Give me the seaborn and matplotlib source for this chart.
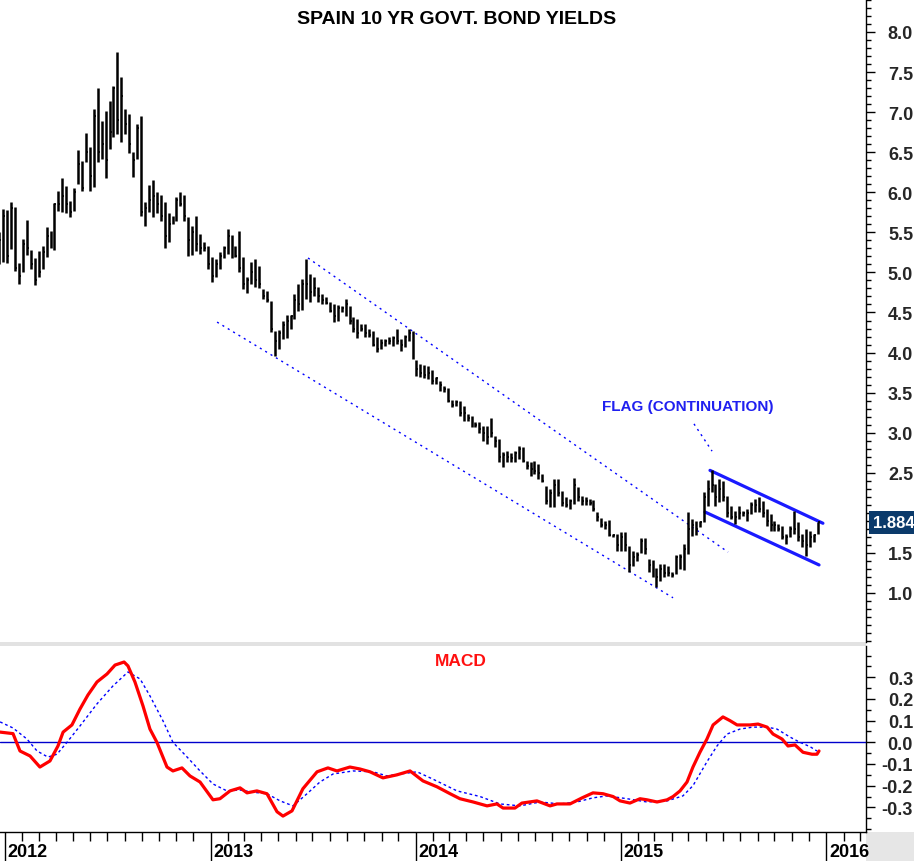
import numpy as np
import pandas as pd
import matplotlib
matplotlib.use("Agg")
import matplotlib.pyplot as plt
import matplotlib.transforms as mtransforms
from matplotlib.patches import Rectangle
from matplotlib.ticker import FixedLocator, NullFormatter
import seaborn as sns

sns.set_style("white")
plt.rcParams["font.family"] = ["Liberation Sans", "DejaVu Sans"]

# ---------------- data ----------------
first_week = "2011-12-22"

high = [5.50, 5.79, 5.78, 5.88, 5.82, 5.12, 5.42, 5.65, 5.28, 5.18, 5.27, 5.33, 5.57, 5.52, 5.87,
        6.02, 6.18, 6.08, 5.89, 6.05, 6.53, 6.39, 6.74, 6.56, 7.04, 7.30, 6.89, 7.01, 7.14, 7.33,
        7.75, 7.44, 7.04, 6.98, 6.50, 6.85, 6.95, 5.88, 6.09, 6.15, 6.00, 5.97, 5.88, 5.74, 5.70,
        5.94, 6.00, 5.97, 5.69, 5.58, 5.70, 5.48, 5.38, 5.33, 5.19, 5.17, 5.25, 5.33, 5.54, 5.47,
        5.33, 5.52, 5.19, 4.94, 5.13, 5.17, 5.08, 4.79, 4.77, 4.64, 4.27, 4.28, 4.39, 4.47, 4.47,
        4.73, 4.86, 4.92, 5.17, 4.98, 4.94, 4.82, 4.73, 4.69, 4.63, 4.61, 4.59, 4.58, 4.67, 4.58,
        4.44, 4.42, 4.36, 4.36, 4.29, 4.27, 4.19, 4.17, 4.17, 4.19, 4.21, 4.29, 4.17, 4.22, 4.29,
        4.27, 3.91, 3.86, 3.85, 3.83, 3.78, 3.70, 3.65, 3.58, 3.56, 3.41, 3.41, 3.40, 3.33, 3.23,
        3.21, 3.13, 3.13, 3.08, 3.08, 3.18, 2.96, 2.92, 2.76, 2.77, 2.75, 2.77, 2.83, 2.82, 2.65,
        2.63, 2.65, 2.61, 2.49, 2.33, 2.30, 2.42, 2.42, 2.27, 2.20, 2.17, 2.44, 2.32, 2.21, 2.20,
        2.17, 2.16, 2.01, 1.93, 1.90, 1.91, 1.74, 1.74, 1.76, 1.76, 1.59, 1.52, 1.51, 1.69, 1.69,
        1.42, 1.41, 1.31, 1.36, 1.36, 1.34, 1.26, 1.47, 1.49, 1.61, 2.01, 1.92, 1.90, 1.90, 2.26,
        2.41, 2.53, 2.36, 2.42, 2.40, 2.21, 2.09, 2.02, 2.09, 2.02, 2.05, 2.13, 2.17, 2.20, 2.15,
        2.05, 1.99, 1.90, 1.86, 1.84, 1.74, 1.84, 2.02, 1.89, 1.74, 1.80, 1.77, 1.74, 1.89]

low = [5.10, 5.13, 5.12, 5.29, 5.02, 4.86, 5.00, 5.22, 5.04, 4.84, 4.94, 5.04, 5.19, 5.30, 5.28,
       5.77, 5.75, 5.74, 5.69, 5.77, 6.10, 6.02, 6.38, 6.02, 6.07, 6.38, 6.42, 6.18, 6.54, 6.69,
       6.73, 6.63, 6.73, 6.49, 6.19, 6.42, 5.70, 5.58, 5.75, 5.69, 5.74, 5.64, 5.30, 5.38, 5.60,
       5.64, 5.83, 5.64, 5.20, 5.22, 5.27, 5.23, 5.27, 5.04, 4.88, 4.94, 5.04, 5.18, 5.23, 5.18,
       5.19, 5.00, 4.79, 4.74, 4.86, 4.82, 4.81, 4.67, 4.63, 4.26, 3.96, 4.04, 4.17, 4.18, 4.29,
       4.42, 4.52, 4.53, 4.67, 4.63, 4.71, 4.63, 4.61, 4.61, 4.50, 4.38, 4.39, 4.51, 4.46, 4.36,
       4.26, 4.18, 4.27, 4.19, 4.19, 4.08, 4.01, 4.04, 4.08, 4.11, 4.08, 4.11, 4.02, 4.07, 4.14,
       3.92, 3.71, 3.70, 3.68, 3.67, 3.61, 3.61, 3.52, 3.51, 3.38, 3.32, 3.33, 3.21, 3.15, 3.15,
       3.07, 3.07, 3.00, 2.90, 2.86, 2.95, 2.82, 2.63, 2.57, 2.64, 2.64, 2.64, 2.67, 2.63, 2.55,
       2.46, 2.49, 2.42, 2.38, 2.11, 2.07, 2.07, 2.21, 2.09, 2.07, 2.05, 2.11, 2.15, 2.10, 2.10,
       2.10, 2.02, 1.90, 1.82, 1.80, 1.71, 1.70, 1.52, 1.52, 1.52, 1.26, 1.34, 1.40, 1.50, 1.49,
       1.26, 1.20, 1.07, 1.15, 1.20, 1.21, 1.20, 1.24, 1.30, 1.29, 1.49, 1.71, 1.72, 1.82, 1.89,
       2.09, 2.26, 2.09, 2.13, 2.15, 1.95, 1.92, 1.86, 1.92, 1.96, 1.90, 1.99, 2.01, 2.01, 1.95,
       1.84, 1.77, 1.77, 1.77, 1.67, 1.61, 1.70, 1.74, 1.65, 1.57, 1.46, 1.57, 1.64, 1.74]

close = [5.40, 5.70, 5.20, 5.80, 5.05, 4.95, 5.35, 5.30, 5.10, 4.90, 5.00, 5.25, 5.45, 5.40, 5.85,
         5.85, 5.95, 5.85, 5.75, 6.00, 6.35, 6.05, 6.50, 6.20, 6.95, 6.50, 6.60, 6.40, 6.75, 7.30,
         6.90, 7.20, 6.85, 6.60, 6.40, 6.80, 5.75, 5.80, 5.90, 5.95, 5.85, 5.70, 5.45, 5.60, 5.65,
         5.90, 5.85, 5.70, 5.40, 5.50, 5.35, 5.30, 5.30, 5.10, 4.95, 5.10, 5.20, 5.30, 5.45, 5.25,
         5.20, 5.05, 4.85, 4.90, 5.00, 4.90, 4.85, 4.70, 4.65, 4.30, 4.15, 4.25, 4.35, 4.40, 4.45,
         4.65, 4.60, 4.85, 4.85, 4.75, 4.80, 4.70, 4.65, 4.62, 4.52, 4.45, 4.55, 4.55, 4.60, 4.40,
         4.30, 4.25, 4.30, 4.25, 4.22, 4.10, 4.05, 4.12, 4.15, 4.15, 4.18, 4.15, 4.10, 4.20, 4.25,
         3.95, 3.80, 3.75, 3.72, 3.75, 3.65, 3.68, 3.60, 3.55, 3.40, 3.35, 3.38, 3.25, 3.25, 3.18,
         3.10, 3.10, 3.05, 3.00, 2.95, 3.00, 2.90, 2.70, 2.72, 2.70, 2.68, 2.75, 2.80, 2.65, 2.58,
         2.55, 2.52, 2.50, 2.40, 2.15, 2.25, 2.35, 2.25, 2.12, 2.10, 2.15, 2.35, 2.20, 2.15, 2.15,
         2.12, 2.05, 1.95, 1.85, 1.85, 1.72, 1.72, 1.60, 1.70, 1.60, 1.35, 1.45, 1.48, 1.65, 1.55,
         1.35, 1.25, 1.20, 1.30, 1.25, 1.25, 1.22, 1.45, 1.45, 1.55, 1.80, 1.85, 1.80, 1.88, 2.20,
         2.30, 2.35, 2.20, 2.30, 2.20, 2.00, 1.95, 1.95, 2.00, 2.00, 2.00, 2.10, 2.10, 2.05, 2.00,
         1.90, 1.85, 1.85, 1.80, 1.70, 1.70, 1.80, 1.80, 1.70, 1.65, 1.60, 1.70, 1.72, 1.884]

# MACD line (time in decimal years, value)
macd_time = [2011.976, 2012.039, 2012.073, 2012.122, 2012.170, 2012.219, 2012.258, 2012.283,
             2012.326, 2012.365, 2012.404, 2012.448, 2012.497, 2012.536, 2012.580, 2012.599,
             2012.633, 2012.672, 2012.706, 2012.740, 2012.789, 2012.818, 2012.862, 2012.901,
             2012.950, 2013.013, 2013.047, 2013.096, 2013.145, 2013.179, 2013.227, 2013.276,
             2013.325, 2013.354, 2013.398, 2013.451, 2013.520, 2013.573, 2013.617, 2013.680,
             2013.729, 2013.778, 2013.841, 2013.909, 2013.973, 2014.036, 2014.104, 2014.168,
             2014.216, 2014.280, 2014.348, 2014.396, 2014.426, 2014.484, 2014.518, 2014.591,
             2014.655, 2014.689, 2014.752, 2014.811, 2014.864, 2014.913, 2014.962, 2014.996,
             2015.044, 2015.093, 2015.127, 2015.176, 2015.225, 2015.254, 2015.288, 2015.322,
             2015.351, 2015.385, 2015.419, 2015.449, 2015.497, 2015.531, 2015.566, 2015.629,
             2015.668, 2015.712, 2015.741, 2015.785, 2015.814, 2015.848, 2015.887, 2015.931,
             2015.955, 2015.965]
macd_value = [0.047, 0.040, -0.040, -0.063, -0.114, -0.086, -0.017, 0.047,
              0.080, 0.153, 0.218, 0.278, 0.315, 0.356, 0.370, 0.352,
              0.278, 0.168, 0.061, 0.000, -0.114, -0.132, -0.118, -0.155,
              -0.183, -0.265, -0.260, -0.224, -0.210, -0.233, -0.224, -0.237,
              -0.320, -0.340, -0.316, -0.214, -0.136, -0.118, -0.132, -0.114,
              -0.123, -0.136, -0.164, -0.150, -0.132, -0.178, -0.205, -0.237,
              -0.260, -0.275, -0.293, -0.284, -0.303, -0.303, -0.280, -0.270,
              -0.293, -0.284, -0.284, -0.256, -0.233, -0.237, -0.250, -0.270,
              -0.280, -0.260, -0.265, -0.275, -0.265, -0.250, -0.224, -0.183,
              -0.114, -0.046, 0.015, 0.080, 0.117, 0.100, 0.080, 0.080,
              0.084, 0.070, 0.038, 0.015, -0.017, -0.012, -0.046, -0.055,
              -0.055, -0.040]

signal_time = [2011.976, 2012.039, 2012.107, 2012.156, 2012.209, 2012.253, 2012.302, 2012.365,
               2012.448, 2012.526, 2012.599, 2012.658, 2012.706, 2012.770, 2012.818, 2012.887,
               2012.950, 2013.013, 2013.081, 2013.145, 2013.208, 2013.276, 2013.340, 2013.403,
               2013.471, 2013.534, 2013.598, 2013.695, 2013.793, 2013.861, 2013.924, 2014.007,
               2014.085, 2014.202, 2014.314, 2014.411, 2014.509, 2014.606, 2014.703, 2014.786,
               2014.864, 2014.932, 2015.030, 2015.127, 2015.225, 2015.302, 2015.351, 2015.419,
               2015.468, 2015.517, 2015.580, 2015.643, 2015.712, 2015.760, 2015.824, 2015.872,
               2015.921, 2015.955]
signal_value = [0.094, 0.066, 0.015, -0.040, -0.068, -0.055, 0.000, 0.075,
                0.177, 0.260, 0.324, 0.292, 0.214, 0.098, 0.000, -0.068,
                -0.132, -0.192, -0.224, -0.220, -0.230, -0.237, -0.270, -0.293,
                -0.237, -0.183, -0.146, -0.132, -0.136, -0.155, -0.146, -0.136,
                -0.170, -0.224, -0.250, -0.284, -0.293, -0.275, -0.284, -0.275,
                -0.256, -0.247, -0.260, -0.275, -0.270, -0.247, -0.200, -0.090,
                -0.017, 0.038, 0.061, 0.070, 0.070, 0.061, 0.024, 0.000,
                -0.020, -0.040]

# annotation lines (decimal year, price)
channel_upper_t = [2013.476, 2015.522]
channel_upper_p = [5.18, 1.51]
channel_lower_t = [2013.033, 2015.254]
channel_lower_p = [4.38, 0.94]
pointer_t = [2015.356, 2015.444]
pointer_p = [3.11, 2.77]
flag_upper_t = [2015.434, 2015.984]
flag_upper_p = [2.53, 1.87]
flag_lower_t = [2015.410, 2015.965]
flag_lower_p = [2.01, 1.35]

price_ticks = [1.0, 1.5, 2.0, 2.5, 3.0, 3.5, 4.0, 4.5, 5.0, 5.5, 6.0, 6.5, 7.0, 7.5, 8.0]
price_tick_labels = ["1.0", "1.5", "", "2.5", "3.0", "3.5", "4.0", "4.5", "5.0", "5.5",
                     "6.0", "6.5", "7.0", "7.5", "8.0"]
macd_ticks = [-0.3, -0.2, -0.1, 0.0, 0.1, 0.2, 0.3]
year_labels = [2012, 2013, 2014, 2015, 2016]
last_value = "1.884"

title = "SPAIN 10 YR GOVT. BOND YIELDS"
flag_text = "FLAG (CONTINUATION)"
macd_text = "MACD"


def to_date(t):
    t = np.asarray(t, dtype=float)
    return pd.Timestamp("2012-01-01") + pd.to_timedelta((t - 2012.0) * 365.25, unit="D")


dates = pd.date_range(first_week, periods=len(high), freq="7D")

# ---------------- figure ----------------
W, H = 914, 862
fig = plt.figure(figsize=(W / 100, H / 100), dpi=100)
fig.patch.set_facecolor("white")

ax = fig.add_axes([0, 1 - 643 / H, 866 / W, 643 / H])
ax2 = fig.add_axes([0, 1 - 833 / H, 866 / W, (833 - 647) / H], sharex=ax)

# price bars
ax.vlines(dates, low, high, color="black", lw=1.8, zorder=3)
ax.hlines(close, dates, dates + pd.Timedelta(days=3.5), color="black", lw=1.2, zorder=3)

blue = "#0000ff"
ax.plot(to_date(channel_upper_t), channel_upper_p, color=blue, lw=1, ls=(0, (1.5, 3)))
ax.plot(to_date(channel_lower_t), channel_lower_p, color=blue, lw=1, ls=(0, (1.5, 3)))
ax.plot(to_date(pointer_t), pointer_p, color=blue, lw=1, ls=(0, (1.5, 3)))
ax.plot(to_date(flag_upper_t), flag_upper_p, color="#1a1aff", lw=2.3, solid_capstyle="round")
ax.plot(to_date(flag_lower_t), flag_lower_p, color="#1a1aff", lw=2.3, solid_capstyle="round")

x0 = pd.Timestamp("2012-01-01")
px_per_day = 205.3 / 365.25
ax.set_xlim(x0 - pd.Timedelta(days=5 / px_per_day), x0 + pd.Timedelta(days=(866 - 5) / px_per_day))
ax.set_ylim(8.0 - 610 / 80.14, 8.0 + 33 / 80.14)

for s in ["left", "top", "bottom"]:
    ax.spines[s].set_visible(False)
ax.spines["right"].set_color("black")
ax.spines["right"].set_linewidth(1)
ax.yaxis.tick_right()
ax.yaxis.set_major_locator(FixedLocator(price_ticks))
ax.set_yticklabels(price_tick_labels)
ax.yaxis.set_minor_locator(FixedLocator(np.round(np.arange(0.4, 8.45, 0.1), 2)))
ax.tick_params(axis="y", which="major", length=6.5, width=1, color="black", pad=27.4,
               labelsize=13, direction="out")
ax.tick_params(axis="y", which="minor", length=3.5, width=1, color="black", direction="out")
ax.tick_params(axis="x", which="both", bottom=False, labelbottom=False)
for t in ax.yaxis.get_major_ticks():
    t.label2.set_horizontalalignment("right")
    t.label2.set_fontweight("bold")

# MACD
mdf = pd.DataFrame({"date": to_date(macd_time), "value": macd_value})
sdf = pd.DataFrame({"date": to_date(signal_time), "value": signal_value})
ax2.axhline(0, color="#0000cc", lw=1, zorder=1)
sns.lineplot(data=sdf, x="date", y="value", ax=ax2, color=blue, lw=1, estimator=None,
             linestyle=(0, (2, 2)), zorder=2)
sns.lineplot(data=mdf, x="date", y="value", ax=ax2, color="#ff0000", lw=2.3, estimator=None,
             zorder=3)
ax2.set_ylim(-(833 - 743.3) / 217, (743.3 - 647) / 217)
ax2.set_xlabel("")
ax2.set_ylabel("")
for s in ["left", "top"]:
    ax2.spines[s].set_visible(False)
for s in ["right", "bottom"]:
    ax2.spines[s].set_color("black")
    ax2.spines[s].set_linewidth(1)
ax2.yaxis.tick_right()
ax2.yaxis.set_major_locator(FixedLocator(macd_ticks))
ax2.set_yticklabels([f"{v:.1f}" for v in macd_ticks])
ax2.yaxis.set_minor_locator(FixedLocator(np.round(np.arange(-0.4, 0.45, 0.05), 3)))
ax2.tick_params(axis="y", which="major", length=6.5, width=1, color="black", pad=27.4,
                labelsize=13, direction="out")
ax2.tick_params(axis="y", which="minor", length=3.5, width=1, color="black", direction="out")
for t in ax2.yaxis.get_major_ticks():
    t.label2.set_horizontalalignment("right")
    t.label2.set_fontweight("bold")

year_dates = [pd.Timestamp(f"{y}-01-01") for y in year_labels]
month_dates = pd.date_range("2011-12-01", "2016-03-01", freq="MS")
ax2.xaxis.set_major_locator(FixedLocator(matplotlib.dates.date2num(year_dates)))
ax2.xaxis.set_minor_locator(FixedLocator(matplotlib.dates.date2num(month_dates)))
ax2.xaxis.set_major_formatter(NullFormatter())
ax2.tick_params(axis="x", which="major", length=21, width=1, color="black", direction="out",
                labelbottom=False, bottom=True)
ax2.tick_params(axis="x", which="minor", length=6.5, width=1, color="black", direction="out",
                bottom=True)
trans = mtransforms.blended_transform_factory(ax2.transData, ax2.transAxes)
for y, d in zip(year_labels, year_dates):
    ax2.text(d + pd.Timedelta(days=5), -0.128, str(y), transform=trans, ha="left",
             va="baseline", fontsize=13, fontweight="bold", color="black", clip_on=False)

# separators / decorations
fig.add_artist(Rectangle((0, 1 - 647 / H), 866 / W, 4 / H, transform=fig.transFigure,
                         facecolor="#e2e2e2", edgecolor="none", zorder=0))
fig.add_artist(Rectangle((866 / W, 0), 48 / W, 29 / H, transform=fig.transFigure,
                         facecolor="#e6e6e6", edgecolor="none", zorder=0))

fig.text(0.5, 1 - 20 / H, title, ha="center", va="center", fontsize=14,
         fontweight="bold", color="black")
fig.text(688 / W, 1 - 407 / H, flag_text, ha="center", va="center", fontsize=11,
         fontweight="bold", color="#2020f0")
fig.text(461 / W, 1 - 662 / H, macd_text, ha="center", va="center", fontsize=12.5,
         fontweight="bold", color="#ff1010")
fig.text(873 / W, 1 - 523.5 / H, last_value, ha="left", va="center", fontsize=12,
         fontweight="bold", color="white",
         bbox=dict(boxstyle="square,pad=0.25", facecolor="#0b3a6b", edgecolor="none"))

fig.savefig("out.png", dpi=100)
